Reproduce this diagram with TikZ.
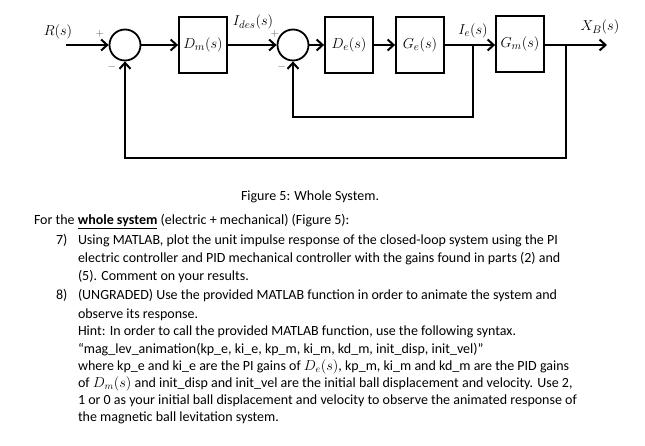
\documentclass[tikz,border=0pt]{standalone}
\usepackage{fontspec}
\setmainfont{Carlito}
\usetikzlibrary{arrows.meta}
\begin{document}
\begin{tikzpicture}[x=1pt,y=-1pt,
  line width=2pt,
  >={Straight Barb[length=6pt,width=11pt,line width=2pt]},
  blk/.style={draw,line width=1.8pt,minimum width=48pt,minimum height=56pt,inner sep=0pt,font=\fontsize{15}{17}\selectfont},
  sumj/.style={draw,circle,line width=1.8pt,minimum size=31pt,inner sep=0pt},
  lbl/.style={font=\fontsize{15}{17}\selectfont,inner sep=0pt},
  sgn/.style={font=\fontsize{11}{13}\selectfont,text=black!65,inner sep=0pt},
  txt/.style={anchor=base west,inner sep=0pt,font=\fontsize{14}{16}\selectfont}]
\useasboundingbox (0,0) rectangle (645,446);
% blocks
\node[sumj] (s1) at (125,45) {};
\node[blk] (dm) at (203,45) {$D_m(s)$};
\node[sumj] (s2) at (293,45) {};
\node[blk] (de) at (349,45) {$D_e(s)$};
\node[blk] (ge) at (420,45) {$G_e(s)$};
\node[blk] (gm) at (520,44) {$G_m(s)$};
\coordinate (r) at (66,45);
\coordinate (b1) at (473,45);
\coordinate (c1) at (473,117);
\coordinate (b2) at (566,45);
\coordinate (c2) at (566,158);
\coordinate (out) at (607,45);
% connectors
\draw[->] (r) -- (s1.west);
\draw[->] (s1.east) -- (dm.west);
\draw[->] (dm.east) -- (s2.west);
\draw[->] (s2.east) -- (de.west);
\draw[->] (de.east) -- (ge.west);
\draw[->] (ge.east) -- (gm.west |- b1);
\draw[->] (gm.east |- b2) -- (out);
\draw[->] (b1) -- (c1) -| (s2.south);
\draw[->] (b2) -- (c2) -| (s1.south);
% labels
\node[lbl] (lr) at (58,32) {$R(s)$};
\node[sgn] (p1) at (100,34) {$+$};
\node[sgn] (m1) at (112,67) {$-$};
\node[lbl] (lides) at (253,22) {$I_{des}(s)$};
\node[sgn] (p2) at (275,34) {$+$};
\node[sgn] (m2) at (282,67) {$-$};
\node[lbl] (lie) at (473,31) {$I_e(s)$};
\node[lbl] (lxb) at (600,27) {$X_B(s)$};
% text
\node[txt] (cap) at (240,201) {Figure 5: Whole System.};
\node[txt] (t0) at (33,225) {For the \underline{\textbf{whole system}} (electric + mechanical) (Figure 5):};
\node[txt] (n7) at (55,245) {7)};
\node[txt] (t1) at (77,245) {Using MATLAB, plot the unit impulse response of the closed-loop system using the PI};
\node[txt] (t2) at (77,263) {electric controller and PID mechanical controller with the gains found in parts (2) and};
\node[txt] (t3) at (77,281) {(5). Comment on your results.};
\node[txt] (n8) at (55,300) {8)};
\node[txt] (t4) at (77,300) {(UNGRADED) Use the provided MATLAB function in order to animate the system and};
\node[txt] (t5) at (77,318) {observe its response.};
\node[txt] (t6) at (77,335.5) {Hint: In order to call the provided MATLAB function, use the following syntax.};
\node[txt] (t7) at (77,353) {“mag\_lev\_animation(kp\_e, ki\_e, kp\_m, ki\_m, kd\_m, init\_disp, init\_vel)”};
\node[txt] (t8) at (77,370) {where kp\_e and ki\_e are the PI gains of $D_e(s)$, kp\_m, ki\_m and kd\_m are the PID gains};
\node[txt] (t9) at (77,387) {of $D_m(s)$ and init\_disp and init\_vel are the initial ball displacement and velocity. Use 2,};
\node[txt] (t10) at (77,404) {1 or 0 as your initial ball displacement and velocity to observe the animated response of};
\node[txt] (t11) at (77,421) {the magnetic ball levitation system.};
\end{tikzpicture}
\end{document}
